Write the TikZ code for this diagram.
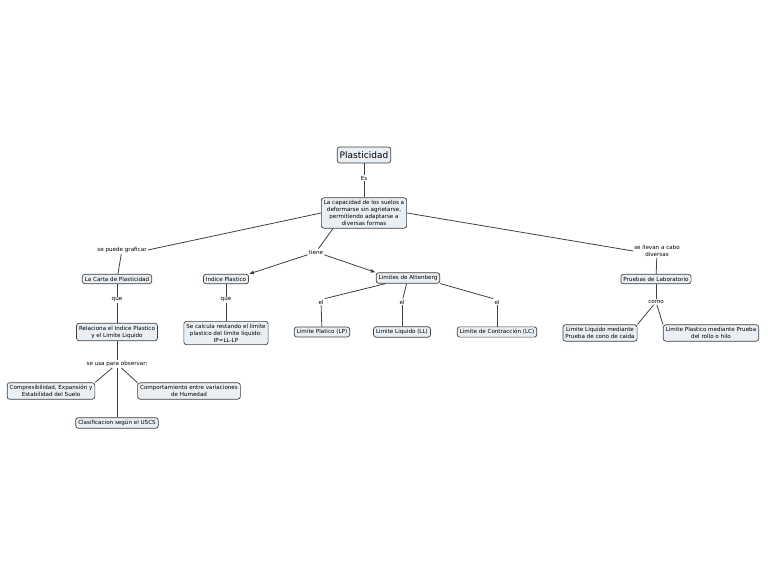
\documentclass[tikz,border=0pt]{standalone}
\usepackage{fontspec}
\setmainfont{DejaVu Sans}
\usetikzlibrary{arrows.meta}
\definecolor{nodefill}{HTML}{E9EFF3}
\begin{document}
\begin{tikzpicture}[x=1pt,y=-1pt,
  box/.style={draw=black!75,fill=nodefill,rounded corners=2.5pt,line width=0.7pt,align=center,font=\fontsize{5.6}{7}\selectfont,inner sep=2.5pt},
  lbl/.style={font=\fontsize{5.6}{7}\selectfont,inner sep=1pt,align=center},
  ln/.style={draw=black!75,line width=0.8pt},
  ar/.style={ln,-{Latex[length=5pt,width=4pt]}}]
\useasboundingbox (0,0) rectangle (768,578);
\node[box,font=\fontsize{9}{11}\selectfont,minimum height=16pt] (pl) at (364,155) {Plasticidad};
\node[lbl] (es) at (364,178) {Es};
\node[box] (cap) at (364,213) {La capacidad de los suelos a\\deformarse sin agrietarse,\\permitiendo adaptarse a\\diversas formas};
\node[lbl] (graf) at (122,250) {se puede graficar};
\node[lbl] (tiene) at (316,252) {tiene};
\node[lbl] (llevan) at (657,251) {se llevan a cabo\\diversas};
\node[box] (carta) at (117,279) {La Carta de Plasticidad};
\node[box] (ip) at (226,279) {Indice Plastico};
\node[box] (att) at (408,278) {Limites de Attenberg};
\node[box] (prue) at (656,279) {Pruebas de Laboratorio};
\node[lbl] (que1) at (117,300) {que};
\node[lbl] (que2) at (226,300) {que};
\node[lbl] (el1) at (321,302) {el};
\node[lbl] (el2) at (402,302) {el};
\node[lbl] (el3) at (497,302) {el};
\node[lbl] (como) at (656,302) {como};
\node[box] (rel) at (117,332) {Relaciona el Indice Plastico\\y el Limite Liquido};
\node[box] (calc) at (226,333) {Se calcula restando el limite\\plastico del limite liquido:\\IP=LL-LP};
\node[box] (lp) at (322,332) {Limite Platico (LP)};
\node[box] (ll) at (402,332) {Limite Liquido (LL)};
\node[box] (lc) at (497,332) {Limite de Contracción (LC)};
\node[box] (llm) at (600,333) {Limite Liquido mediante\\Prueba de cono de caida};
\node[box] (lpm) at (711,333) {Limite Plastico mediante Prueba\\del rollo o hilo};
\node[lbl] (usa) at (117,364) {se usa para observar:};
\node[box] (comp) at (51,391) {Compresibilidad, Expansión y\\Estabilidad del Suelo};
\node[box] (hum) at (189,391) {Comportamiento entre variaciones\\de Humedad};
\node[box] (usc) at (117,423) {Clasificacion según el USCS};
\draw[ln] (pl)--(es); \draw[ln] (es)--(cap);
\draw[ln] (cap.west)--(graf.east); \draw[ln] (graf)--(carta);
\draw[ln] ([xshift=12pt]cap.south west)--(tiene);
\draw[ar] (tiene)--(ip.north east); \draw[ar] (tiene)--(att.north west);
\draw[ln] (cap.east)--(llevan.west); \draw[ln] (llevan)--(prue);
\draw[ln] (carta)--(que1); \draw[ln] (que1)--(rel);
\draw[ln] (ip)--(que2); \draw[ln] (que2)--(calc);
\draw[ln] ([xshift=10pt]att.south west)--(el1.north east); \draw[ln] (el1)--(lp);
\draw[ln] (att)--(el2); \draw[ln] (el2)--(ll);
\draw[ln] (att.south east)--(el3.north west); \draw[ln] (el3)--(lc);
\draw[ln] (prue)--(como); \draw[ln] (como)--(llm.north east); \draw[ln] (como)--(lpm.north west);
\draw[ln] (rel)--(usa); \draw[ln] (usa)--(comp.north east); \draw[ln] (usa)--(hum.north west); \draw[ln] (usa)--(usc);
\end{tikzpicture}
\end{document}
